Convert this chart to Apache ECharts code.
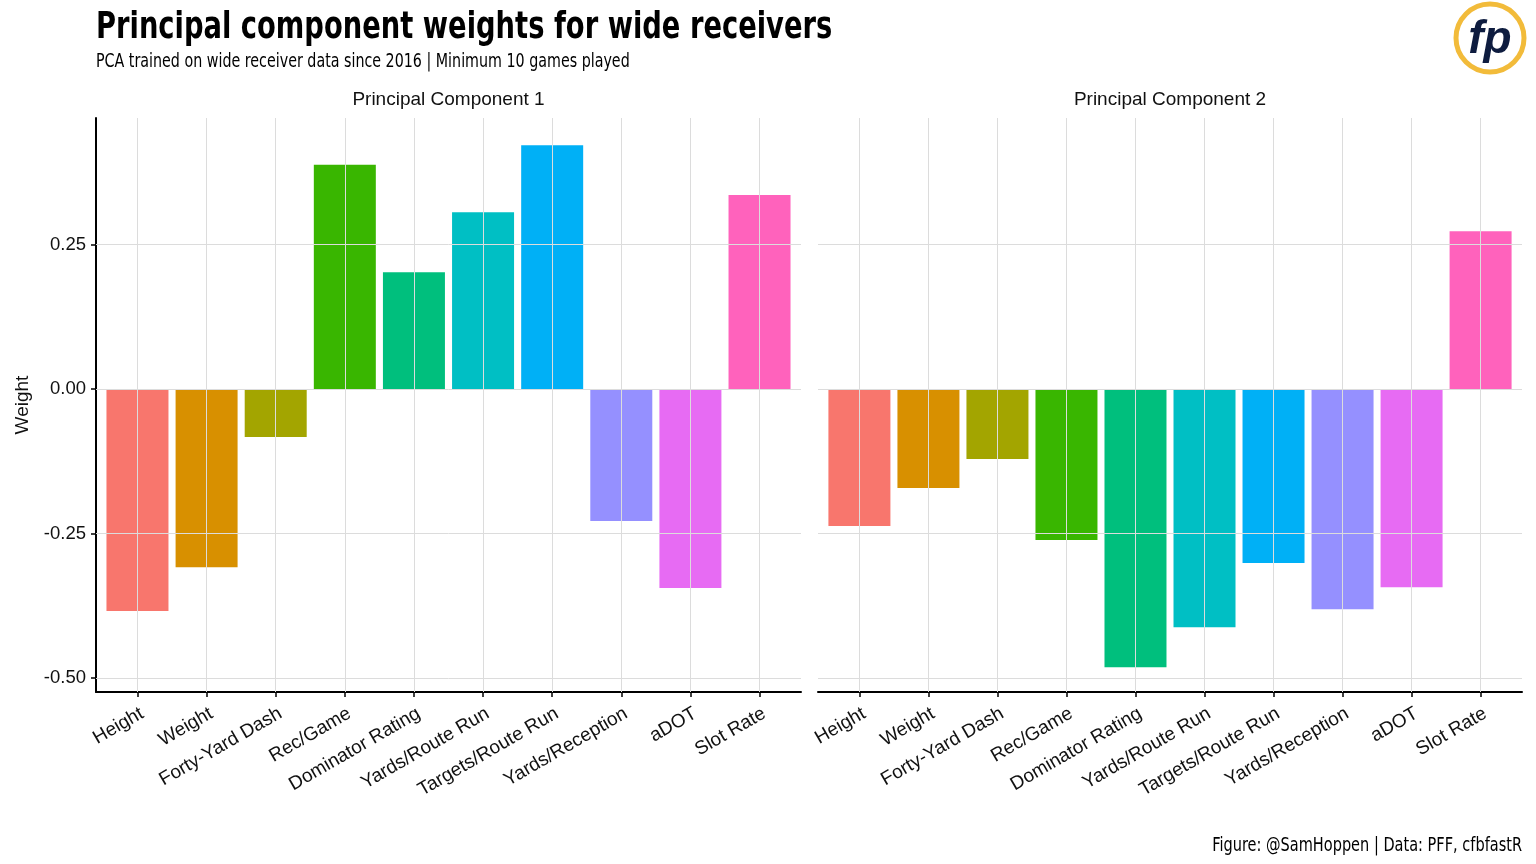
<!DOCTYPE html>
<html>
<head>
<meta charset="utf-8">
<script src="https://cdn.jsdelivr.net/npm/echarts@6/dist/echarts.min.js"></script>
<style>
html,body{margin:0;padding:0;background:#fff;}
#chart{width:1536px;height:864px;}
</style>
</head>
<body>
<div id="chart"></div>
<script>
const categories = ['Height','Weight','Forty-Yard Dash','Rec/Game','Dominator Rating','Yards/Route Run','Targets/Route Run','Yards/Reception','aDOT','Slot Rate'];
const pc1Values = [-0.384, -0.308, -0.083, 0.388, 0.202, 0.306, 0.422, -0.228, -0.344, 0.336];
const pc2Values = [-0.237, -0.171, -0.121, -0.261, -0.481, -0.412, -0.301, -0.381, -0.343, 0.273];
const yTicks = [-0.5, -0.25, 0, 0.25];
const panelTitles = ['Principal Component 1', 'Principal Component 2'];
const titleText = 'Principal component weights for wide receivers';
const subtitleText = 'PCA trained on wide receiver data since 2016 | Minimum 10 games played';
const captionText = 'Figure: @SamHoppen | Data: PFF, cfbfastR';

const colors = ['#F8766D','#D89000','#A3A500','#39B600','#00BF7D','#00BFC4','#00B0F6','#9590FF','#E76BF3','#FF62BC'];
const positions = categories.map((c, i) => i + 1);
const labelFont = '"Liberation Sans", Arial, sans-serif';
const condFamily = '"DejaVu Sans Condensed", "DejaVu Sans", sans-serif';

const chart = echarts.init(document.getElementById('chart'), null, {renderer: 'canvas'});

function makeBars(values) {
  return values.map((v, i) => ({value: [positions[i], v], itemStyle: {color: colors[i]}}));
}

const grids = [
  {left: 96, right: 735, top: 118, bottom: 172},
  {left: 818, right: 14, top: 118, bottom: 172}
];

function xAxisFor(idx) {
  return {
    type: 'value', gridIndex: idx, min: 0.4, max: 10.6,
    axisLine: {show: true, onZero: false, lineStyle: {color: '#000', width: 2}},
    axisTick: {show: true, customValues: positions, length: 5, lineStyle: {color: '#000', width: 1.5}},
    axisLabel: {
      show: true, customValues: positions, rotate: 30, margin: 12,
      align: 'right', verticalAlign: 'top',
      fontFamily: labelFont, fontSize: 19, color: '#111',
      formatter: v => categories[Math.round(v) - 1] || ''
    },
    splitLine: {show: false}
  };
}
function yAxisFor(idx) {
  return {
    type: 'value', gridIndex: idx, min: -0.524, max: 0.469,
    axisLine: {show: idx === 0, onZero: false, lineStyle: {color: '#000', width: 2}},
    axisTick: {show: idx === 0, customValues: yTicks, length: 5, lineStyle: {color: '#000', width: 1.5}},
    axisLabel: {
      show: idx === 0, customValues: yTicks, margin: 10,
      fontFamily: labelFont, fontSize: 18.5, color: '#111',
      formatter: v => v.toFixed(2)
    },
    splitLine: {show: false},
    name: idx === 0 ? 'Weight' : '',
    nameLocation: 'middle', nameGap: 64, nameRotate: 90,
    nameTextStyle: {fontFamily: labelFont, fontSize: 19, color: '#111'}
  };
}

function gridSeries(idx) {
  return {
    type: 'line', xAxisIndex: idx, yAxisIndex: idx, data: [], z: 1, silent: true,
    markLine: {
      silent: true, symbol: 'none', animation: false,
      label: {show: false},
      lineStyle: {color: '#DCDCDC', type: 'solid', width: 1},
      data: positions.map(p => ({xAxis: p})).concat(yTicks.map(t => ({yAxis: t})))
    }
  };
}

const option = {
  animation: false,
  backgroundColor: '#fff',
  grid: grids,
  xAxis: [xAxisFor(0), xAxisFor(1)],
  yAxis: [yAxisFor(0), yAxisFor(1)],
  title: [
    {text: panelTitles[0], left: 448.5, top: 90, textAlign: 'center', padding: 0,
     textStyle: {fontFamily: labelFont, fontWeight: 'normal', fontSize: 19, color: '#111'}},
    {text: panelTitles[1], left: 1170, top: 90, textAlign: 'center', padding: 0,
     textStyle: {fontFamily: labelFont, fontWeight: 'normal', fontSize: 19, color: '#111'}}
  ],
  graphic: [
    {type: 'text', x: 96, y: 9, scaleX: 0.80,
     style: {text: titleText, fill: '#000', font: 'bold 38px ' + condFamily, textAlign: 'left', textVerticalAlign: 'top'}},
    {type: 'text', x: 96, y: 53, scaleX: 0.835,
     style: {text: subtitleText, fill: '#000', font: '19px ' + condFamily, textAlign: 'left', textVerticalAlign: 'top'}},
    {type: 'text', x: 1522, y: 837, scaleX: 0.85,
     style: {text: captionText, fill: '#000', font: '19px ' + condFamily, textAlign: 'right', textVerticalAlign: 'top'}},
    {type: 'circle', shape: {cx: 1490, cy: 38, r: 34}, style: {fill: '#fff', stroke: '#F2BB3A', lineWidth: 5}},
    {type: 'text', x: 1490, y: 40, style: {text: 'fp', fill: '#0E1C3F', font: 'italic bold 46px "Liberation Sans", Arial, sans-serif', textAlign: 'center', textVerticalAlign: 'middle'}}
  ],
  series: [
    gridSeries(0), gridSeries(1),
    {type: 'bar', xAxisIndex: 0, yAxisIndex: 0, data: makeBars(pc1Values), barWidth: 62, z: 3},
    {type: 'bar', xAxisIndex: 1, yAxisIndex: 1, data: makeBars(pc2Values), barWidth: 62, z: 3}
  ]
};
chart.setOption(option);
</script>
</body>
</html>
